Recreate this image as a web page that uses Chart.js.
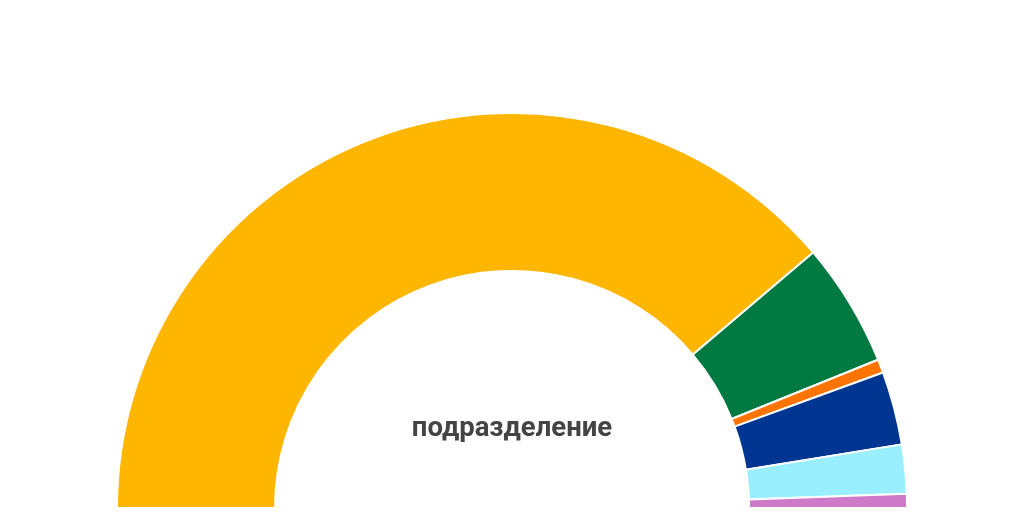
<!DOCTYPE html>
<html>
<head>
<meta charset="utf-8">
<script src="https://cdn.jsdelivr.net/npm/chart.js@4"></script>
<style>
  html, body { margin: 0; padding: 0; background: #fff; }
  #wrap { width: 1024px; height: 512px; }
</style>
</head>
<body>
<div id="wrap"><canvas id="chart"></canvas></div>
<script>
const labels = ['Подразделение 1', 'Подразделение 2', 'Подразделение 3', 'Подразделение 4', 'Подразделение 5', 'Подразделение 6'];
const values = [77.6, 10.15, 1.1, 6.0, 4.0, 1.15];
const colors = ['#FFB600', '#007A40', '#FF7300', '#003591', '#9AEFFF', '#CE7AC8'];
const centerText = 'подразделение';

const centerLabel = {
    id: 'centerLabel',
    afterDraw(chart) {
        const arc = chart.getDatasetMeta(0).data[0];
        if (!arc) return;
        const ctx = chart.ctx;
        ctx.save();
        ctx.font = 'bold 27.5px Roboto';
        ctx.fillStyle = '#444444';
        ctx.textAlign = 'center';
        ctx.textBaseline = 'middle';
        ctx.fillText(centerText, arc.x, arc.y - 79);
        ctx.restore();
    }
};

new Chart(document.getElementById('chart'), {
    type: 'doughnut',
    data: {
        labels: labels,
        datasets: [{
            data: values,
            backgroundColor: colors,
            borderColor: '#ffffff',
            borderWidth: 2
        }]
    },
    options: {
        responsive: true,
        maintainAspectRatio: false,
        animation: false,
        rotation: -90,
        circumference: 180,
        cutout: '60%',
        layout: { padding: { top: 112, bottom: 3 } },
        plugins: {
            legend: { display: false },
            tooltip: { enabled: false }
        }
    },
    plugins: [centerLabel]
});
</script>
</body>
</html>
